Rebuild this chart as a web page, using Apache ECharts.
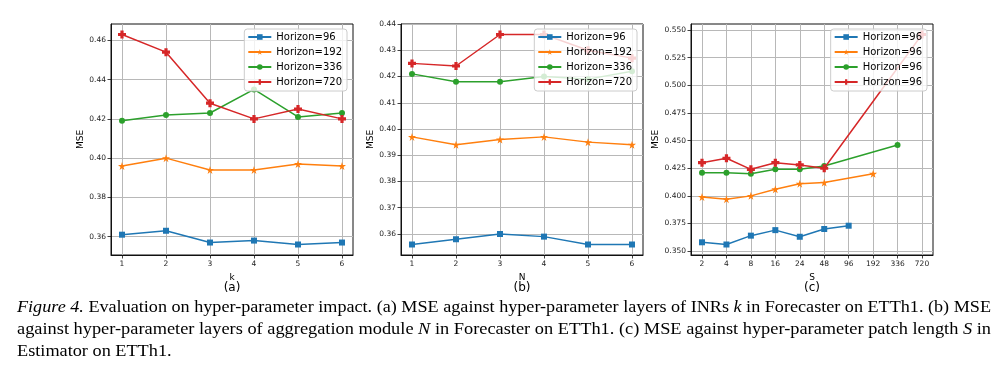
<!DOCTYPE html>
<html><head><meta charset="utf-8">
<script src="https://cdn.jsdelivr.net/npm/echarts@6/dist/echarts.min.js"></script>
<style>html,body{margin:0;padding:0;background:#fff}#c{width:1008px;height:370px}</style>
</head><body><div id="c"></div>
<script>
// ---------- data ----------
const kValues = [1, 2, 3, 4, 5, 6];
const a_h96  = [0.361, 0.363, 0.357, 0.358, 0.356, 0.357];
const a_h192 = [0.396, 0.400, 0.394, 0.394, 0.397, 0.396];
const a_h336 = [0.419, 0.422, 0.423, 0.435, 0.421, 0.423];
const a_h720 = [0.463, 0.454, 0.428, 0.420, 0.425, 0.420];

const nValues = [1, 2, 3, 4, 5, 6];
const b_h96  = [0.356, 0.358, 0.360, 0.359, 0.356, 0.356];
const b_h192 = [0.397, 0.394, 0.396, 0.397, 0.395, 0.394];
const b_h336 = [0.421, 0.418, 0.418, 0.420, 0.419, 0.422];
const b_h720 = [0.425, 0.424, 0.436, 0.436, 0.430, 0.427];

const sLabels = ['2', '4', '8', '16', '24', '48', '96', '192', '336', '720'];
const c_h96  = [0.358, 0.356, 0.364, 0.369, 0.363, 0.370, 0.373, null, null, null];
const c_h192 = [0.399, 0.397, 0.400, 0.406, 0.411, 0.412, null, 0.420, null, null];
const c_h336 = [0.421, 0.421, 0.420, 0.424, 0.424, 0.427, null, null, 0.446, null];
const c_h720 = [0.430, 0.434, 0.424, 0.430, 0.428, 0.425, null, null, null, 0.546];

const abLegend = ['Horizon=96', 'Horizon=192', 'Horizon=336', 'Horizon=720'];
const cLegend  = ['Horizon=96', 'Horizon=96', 'Horizon=96', 'Horizon=96'];

const aYTicks = ['0.36', '0.38', '0.40', '0.42', '0.44', '0.46'];
const bYTicks = ['0.36', '0.37', '0.38', '0.39', '0.40', '0.41', '0.42', '0.43', '0.44'];
const cYTicks = ['0.350', '0.375', '0.400', '0.425', '0.450', '0.475', '0.500', '0.525', '0.550'];

const panelLabels = ['(a)', '(b)', '(c)'];
const xNames = ['k', 'N', 'S'];
const captionLines = [
  '{i|Figure 4.} Evaluation on hyper-parameter impact. (a) MSE against hyper-parameter layers of INRs {i|k} in Forecaster on ETTh1. (b) MSE',
  'against hyper-parameter layers of aggregation module {i|N} in Forecaster on ETTh1. (c) MSE against hyper-parameter patch length {i|S} in',
  'Estimator on ETTh1.'
];

// ---------- style ----------
const COLORS = ['#1f77b4', '#ff7f0e', '#2ca02c', '#d62728'];
const STAR = 'path://M50,0 L61,35 L98,35 L68,57 L79,91 L50,70 L21,91 L32,57 L2,35 L39,35Z';
const PLUS = 'path://M3,0H7V3H10V7H7V10H3V7H0V3H3Z';
const SYMBOLS = ['rect', STAR, 'circle', PLUS];
const SIZES = [6, 8, 6, 8];
const TICKF = 'DejaVu Sans';

function pad(vals) {
  const v = vals.filter(x => x != null);
  const lo = Math.min(...v), hi = Math.max(...v), r = hi - lo;
  return [lo - 0.05 * r, hi + 0.05 * r];
}

const grids = [], xAxes = [], yAxes = [], series = [], legends = [], graphics = [];
const PLOT_LEFTS = [111, 401, 691];
const PLOT_W = 242, PLOT_TOP = 24, PLOT_H = 231;

function addPanel(i, xs, ySeries, yTicks, xTickVals, xTickLabels, legendNames, legendRight, yNameGap) {
  grids.push({left: PLOT_LEFTS[i], top: PLOT_TOP, width: PLOT_W, height: PLOT_H,
    show: true, borderColor: '#111', borderWidth: 1, backgroundColor: 'transparent'});
  const xr = pad(xs), yr = pad([].concat(...ySeries));
  const yTickVals = yTicks.map(Number);
  xAxes.push({gridIndex: i, type: 'value', min: xr[0], max: xr[1],
    name: xNames[i], nameLocation: 'middle', nameGap: 14,
    nameTextStyle: {fontFamily: TICKF, fontSize: 9, color: '#000'},
    axisLine: {show: true, onZero: false, lineStyle: {color: '#111', width: 1}},
    axisTick: {show: true, customValues: xTickVals, length: 3.5, lineStyle: {color: '#111', width: 0.8}},
    axisLabel: {customValues: xTickVals, fontFamily: TICKF, fontSize: 7.5, color: '#222', margin: 5,
      formatter: v => xTickLabels[xTickVals.indexOf(Math.round(v))]},
    splitLine: {show: true, lineStyle: {color: '#b8b8b8', width: 1}}
  });
  yAxes.push({gridIndex: i, type: 'value', min: yr[0], max: yr[1],
    name: 'MSE', nameLocation: 'middle', nameGap: yNameGap,
    nameTextStyle: {fontFamily: TICKF, fontSize: 9, color: '#000'},
    axisLine: {show: true, onZero: false, lineStyle: {color: '#111', width: 1}},
    axisTick: {show: true, customValues: yTickVals, length: 3.5, lineStyle: {color: '#111', width: 0.8}},
    axisLabel: {customValues: yTickVals, fontFamily: TICKF, fontSize: 7.5, color: '#222', margin: 5,
      formatter: v => { let best = 0; yTickVals.forEach((t, j) => { if (Math.abs(t - v) < Math.abs(yTickVals[best] - v)) best = j; }); return yTicks[best]; }},
    splitLine: {show: true, lineStyle: {color: '#b8b8b8', width: 1}}
  });
  const names = [];
  ySeries.forEach((vals, j) => {
    const nm = legendNames[j] + '#' + i + j;
    names.push(nm);
    const data = [];
    vals.forEach((v, k) => { if (v != null) data.push([xs[k], v]); });
    series.push({type: 'line', name: nm, xAxisIndex: i, yAxisIndex: i, data,
      symbol: SYMBOLS[j], symbolSize: SIZES[j], showSymbol: true,
      lineStyle: {color: COLORS[j], width: 1.5}, itemStyle: {color: COLORS[j]},
      emphasis: {disabled: true}, animation: false, z: 3 + j});
  });
  legends.push({data: names, orient: 'vertical', right: legendRight, top: 29,
    itemWidth: 23, itemHeight: 7, itemGap: 3, padding: [2, 5, 3, 3],
    backgroundColor: 'rgba(255,255,255,0.8)', borderColor: '#cccccc', borderWidth: 1, borderRadius: 3,
    textStyle: {fontFamily: TICKF, fontSize: 10, color: '#000', lineHeight: 12},
    formatter: n => n.replace(/#.*/, ''), selectedMode: false, z: 10});
  graphics.push({type: 'text', x: PLOT_LEFTS[i] + PLOT_W / 2, y: 288,
    style: {text: panelLabels[i], fontFamily: TICKF, fontSize: 12, fill: '#000', align: 'center', verticalAlign: 'middle'}});
}

const sIdx = sLabels.map((_, j) => j);
addPanel(0, kValues, [a_h96, a_h192, a_h336, a_h720], aYTicks, kValues, kValues.map(String), abLegend, 661, 25);
addPanel(1, nValues, [b_h96, b_h192, b_h336, b_h720], bYTicks, nValues, nValues.map(String), abLegend, 371, 25);
addPanel(2, sIdx, [c_h96, c_h192, c_h336, c_h720], cYTicks, sIdx, sLabels, cLegend, 81, 29);

// ---------- caption ----------
const CAP_FS = 16, CAP_FONT = 'Liberation Serif';
const cv = document.createElement('canvas').getContext('2d');
function measure(line) {
  let w = 0;
  line.split(/(\{i\|[^}]*\})/).forEach(seg => {
    if (!seg) return;
    const m = seg.match(/^\{i\|([^}]*)\}$/);
    cv.font = (m ? 'italic ' : '') + CAP_FS + 'px "' + CAP_FONT + '"';
    w += cv.measureText(m ? m[1] : seg).width;
  });
  return w;
}
const CAP_X = 17, CAP_W = 974;
const capY = [307.5, 330, 351.5];
const s1 = CAP_W / measure(captionLines[0]), s2 = CAP_W / measure(captionLines[1]);
const scales = [s1, s2, (s1 + s2) / 2];
captionLines.forEach((ln, j) => {
  graphics.push({type: 'text', x: CAP_X, y: capY[j], scaleX: scales[j], originX: 0,
    style: {text: ln, fontFamily: CAP_FONT, fontSize: CAP_FS, fill: '#000', verticalAlign: 'middle', align: 'left',
      rich: {i: {fontStyle: 'italic', fontFamily: CAP_FONT, fontSize: CAP_FS, fill: '#000'}}}});
});

const chart = echarts.init(document.getElementById('c'), null, {renderer: 'canvas'});
chart.setOption({
  animation: false, backgroundColor: '#fff',
  grid: grids, xAxis: xAxes, yAxis: yAxes, series, legend: legends, graphic: graphics
});
</script></body></html>
